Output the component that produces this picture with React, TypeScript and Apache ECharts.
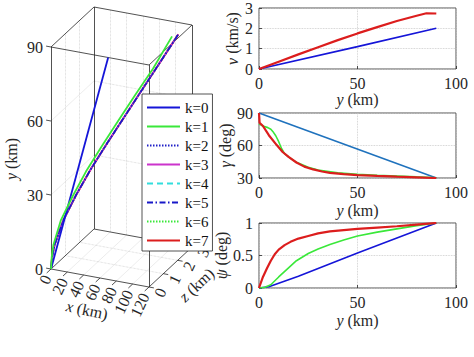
import React, { useEffect, useRef } from "react";
import * as echarts from "echarts";

// ---------- Right panels (horizontal axis: y in km) ----------
const V_K0_Y = [0, 50, 90];
const V_K0 = [0, 1.1, 2.0];
const V_K7_Y = [0, 10, 20, 30, 40, 50, 60, 70, 80, 85, 90];
const V_K7 = [0, 0.36, 0.72, 1.07, 1.42, 1.75, 2.06, 2.36, 2.62, 2.74, 2.73];

const G_K0_Y = [0, 90];
const G_K0 = [90, 30];
const G_K1_Y = [0, 2, 4.5, 6, 7, 8.5, 10, 11.5, 13, 15, 19, 25, 30, 40, 50, 60, 70, 80, 90];
const G_K1 = [80, 78, 76.5, 75, 73, 69, 63.5, 57, 52.5, 49.5, 44.5, 40, 37.3, 34.7, 33.5, 32.6, 31.8, 31, 30.3];
const G_K7_Y = [0, 0.3, 2, 5, 9, 12, 15, 19, 23, 27.5, 32, 36, 43, 50, 60, 70, 80, 90];
const G_K7 = [90, 81, 78, 69.5, 60.4, 54, 49.5, 44.3, 40.5, 37.9, 36, 34.8, 33.5, 32.7, 31.9, 31.2, 30.6, 30];

const P_K0_Y = [0, 5, 20, 50, 90];
const P_K0 = [0, 0.02, 0.18, 0.54, 1];
const P_K1_Y = [0, 3, 6, 10, 15, 19, 25, 30, 36, 43, 50, 60, 70, 80, 90];
const P_K1 = [0, 0.01, 0.05, 0.17, 0.31, 0.42, 0.53, 0.6, 0.67, 0.74, 0.8, 0.86, 0.91, 0.96, 1];
const P_K7_Y = [0, 2, 4, 6, 8, 10, 13, 16, 20, 25, 30, 36, 43, 50, 60, 70, 80, 90];
const P_K7 = [0, 0.17, 0.3, 0.42, 0.52, 0.59, 0.66, 0.71, 0.76, 0.8, 0.84, 0.87, 0.89, 0.91, 0.93, 0.95, 0.975, 1];

// ---------- 3D trajectories (km) ----------
const T0_X = [0, 70];
const T0_Y = [0, 90];
const T0_Z = [0, 0];
const T1_Y = [0, 5, 10, 20, 30, 40, 50, 60, 70, 80, 92];
const T1_X = [0, 0.9, 2.9, 11, 23.5, 37, 52.5, 68.5, 84.5, 101, 117.5];
const T1_Z = [0, 0, 0.005, 0.05, 0.17, 0.34, 0.55, 0.8, 1.07, 1.36, 1.75];
const T7_Y = [0, 5, 10, 20, 30, 40, 50, 60, 70, 80, 91];
const T7_X = [0, 1.3, 4, 13, 25.5, 39.5, 55, 71, 87, 103, 119];
const T7_Z = [0, 0.005, 0.024, 0.13, 0.31, 0.52, 0.76, 1.02, 1.28, 1.56, 2.1];

const X_LIM = [0, 120];
const Y_LIM = [0, 90];
const Z_LIM = [0, 3];
const X_TICKS = [0, 20, 40, 60, 80, 100, 120];
const Y_TICKS = [0, 30, 60, 90];
const Z_TICKS = [0, 1, 2, 3];
const R_X_TICKS_INTERVAL = 50;

const LEGEND_NAMES = ["k=0", "k=1", "k=2", "k=3", "k=4", "k=5", "k=6", "k=7"];

// ---------- styling / projection ----------
const FONT = "Liberation Serif";
const INK = "#262626";
const BLUE = "#1515d8";
const GREEN = "#3ae83a";
const RED = "#dc1d1d";
const MAGENTA = "#cc33cc";
const CYAN = "#33dddd";
const STEEL = "#1f72bd";

const PX = 222 / 90; // px per vertical km
const XDIR = [98 / 120, 18 / 120]; // screen px per km of x
const ZDIR = [43 / 3, -40 / 3]; // screen px per km of z
const ORIGIN = [51, 269];
const U_MIN = -20, U_MAX = 72, W_MIN = -24, W_MAX = 108;

function proj(x: number, y: number, z: number): number[] {
  return [(XDIR[0] * x + ZDIR[0] * z) / PX, y - (XDIR[1] * x + ZDIR[1] * z) / PX];
}

const zip = (xs: number[], ys: number[]) => xs.map((x, i) => [x, ys[i]]);
const traj = (xs: number[], ys: number[], zs: number[]) => xs.map((x, i) => proj(x, ys[i], zs[i]));

function buildOption() {
  const [x0, x1] = X_LIM, [y0, y1] = Y_LIM, [z0, z1] = Z_LIM;
  const edges: number[][][] = [
    [[x0, y0, z0], [x1, y0, z0]], [[x0, y1, z0], [x1, y1, z0]], [[x0, y0, z1], [x1, y0, z1]], [[x0, y1, z1], [x1, y1, z1]],
    [[x0, y0, z0], [x0, y1, z0]], [[x1, y0, z0], [x1, y1, z0]], [[x0, y0, z1], [x0, y1, z1]], [[x1, y0, z1], [x1, y1, z1]],
    [[x0, y0, z0], [x0, y0, z1]], [[x1, y0, z0], [x1, y0, z1]], [[x0, y1, z0], [x0, y1, z1]], [[x1, y1, z0], [x1, y1, z1]],
  ];
  const grids: number[][][] = [];
  const inner = (a: number[]) => a.slice(1, -1);
  inner(X_TICKS).forEach((t) => {
    grids.push([[t, y0, z1], [t, y1, z1]]);
    grids.push([[t, y0, z0], [t, y0, z1]]);
  });
  inner(Y_TICKS).forEach((t) => {
    grids.push([[x0, t, z1], [x1, t, z1]]);
    grids.push([[x0, t, z0], [x0, t, z1]]);
  });
  inner(Z_TICKS).forEach((t) => {
    grids.push([[x0, y0, t], [x0, y1, t]]);
    grids.push([[x0, y0, t], [x1, y0, t]]);
  });
  const ticks: number[][][] = [];
  Y_TICKS.forEach((t) => ticks.push([[x0, t, z0], [x0 - 6, t, z0]]));
  X_TICKS.forEach((t) => ticks.push([[t, y0, z0], [t, y0, z0 - 0.3]]));
  Z_TICKS.forEach((t) => ticks.push([[x1, y0, t], [x1 + 6, y0, t]]));
  const toLines = (segs: number[][][]) =>
    segs.map((s) => ({ coords: [proj(s[0][0], s[0][1], s[0][2]), proj(s[1][0], s[1][1], s[1][2])] }));

  const t0 = traj(T0_X, T0_Y, T0_Z);
  const t1 = traj(T1_X, T1_Y, T1_Z);
  const t7 = traj(T7_X, T7_Y, T7_Z);

  const line3d = (name: string, data: number[][], color: string, width: number, type: any, z: number) => ({
    type: "line", name, xAxisIndex: 3, yAxisIndex: 3, data, symbol: "none", z,
    lineStyle: { color, width, type }, itemStyle: { color },
  });

  const rLine = (xi: number, data: number[][], color: string, width: number) => ({
    type: "line", xAxisIndex: xi, yAxisIndex: xi, data, symbol: "none", silent: true,
    lineStyle: { color, width }, itemStyle: { color },
  });

  const axisLabel = { fontFamily: FONT, fontSize: 16, color: INK, margin: 6 };
  const nameStyle = {
    fontFamily: FONT, fontSize: 16, color: INK,
    rich: { i: { fontFamily: FONT, fontSize: 16, fontStyle: "italic", color: INK } },
  };
  const split = { show: true, lineStyle: { type: "dotted", color: "#c4c4c4", width: 0.8 } };
  const tick = { show: true, inside: true, length: 3, lineStyle: { color: INK, width: 0.8 } };
  const rGrid = (top: number) => ({
    left: 259, right: 18, top, height: 65, show: true, borderColor: INK, borderWidth: 0.8,
  });
  const xR = (gi: number, gap: number) => ({
    type: "value", gridIndex: gi, min: 0, max: 100, interval: R_X_TICKS_INTERVAL,
    axisLine: { show: false }, axisTick: tick, splitLine: split, axisLabel,
    name: "{i|y} (km)", nameLocation: "middle", nameGap: gap, nameTextStyle: nameStyle,
  });
  const yR = (gi: number, min: number, max: number, interval: number, name: string) => ({
    type: "value", gridIndex: gi, min, max, interval,
    axisLine: { show: false }, axisTick: tick, splitLine: split, axisLabel,
    name, nameLocation: "middle", nameGap: 19, nameRotate: 90, nameTextStyle: nameStyle,
  });

  return {
    animation: false,
    backgroundColor: "#ffffff",
    textStyle: { fontFamily: FONT },
    grid: [
      rGrid(4),
      rGrid(113),
      rGrid(223),
      {
        left: ORIGIN[0] + U_MIN * PX, top: ORIGIN[1] - W_MAX * PX,
        width: (U_MAX - U_MIN) * PX, height: (W_MAX - W_MIN) * PX,
      },
    ],
    xAxis: [
      xR(0, 22), xR(1, 24), xR(2, 24),
      { type: "value", gridIndex: 3, min: U_MIN, max: U_MAX, show: false },
    ],
    yAxis: [
      yR(0, 0, 3, 1, "{i|v} (km/s)"),
      yR(1, 30, 90, 30, "{i|γ} (deg)"),
      yR(2, 0, 1, 0.5, "{i|ψ} (deg)"),
      { type: "value", gridIndex: 3, min: W_MIN, max: W_MAX, show: false },
    ],
    legend: {
      data: LEGEND_NAMES,
      orient: "vertical",
      left: 142, top: 94,
      padding: [6, 4, 3, 4],
      itemWidth: 33, itemHeight: 14, itemGap: 4,
      itemStyle: { opacity: 0 },
      backgroundColor: "#ffffff",
      borderColor: INK, borderWidth: 0.8,
      textStyle: { fontFamily: FONT, fontSize: 15, color: "#111", lineHeight: 14 },
      selectedMode: false,
      z: 20,
    },
    series: [
      { type: "lines", coordinateSystem: "cartesian2d", xAxisIndex: 3, yAxisIndex: 3, silent: true, z: 1,
        data: toLines(grids), lineStyle: { color: "#c8c8c8", width: 0.7, type: "dotted", opacity: 1 } },
      { type: "lines", coordinateSystem: "cartesian2d", xAxisIndex: 3, yAxisIndex: 3, silent: true, z: 1,
        data: toLines(edges), lineStyle: { color: INK, width: 0.8, opacity: 1 } },
      { type: "lines", coordinateSystem: "cartesian2d", xAxisIndex: 3, yAxisIndex: 3, silent: true, z: 1,
        data: toLines(ticks), lineStyle: { color: INK, width: 0.8, opacity: 1 } },
      line3d("k=0", t0, BLUE, 1.8, "solid", 9),
      line3d("k=1", t1, GREEN, 1.8, "solid", 9),
      line3d("k=2", t7, "#2020c8", 1.5, [1.5, 1.5], 7),
      line3d("k=3", t7, MAGENTA, 1.8, "solid", 5),
      line3d("k=4", t7, CYAN, 1.5, [6, 4], 4),
      line3d("k=5", t7, "#1818c8", 1.5, [6, 2.5, 1.5, 2.5], 8),
      line3d("k=6", t7, GREEN, 1.5, [1.5, 1.5], 4),
      line3d("k=7", t7, RED, 2, "solid", 3),
      rLine(0, zip(V_K0_Y, V_K0), BLUE, 1.6),
      rLine(0, zip(V_K7_Y, V_K7), RED, 2.2),
      rLine(1, zip(G_K0_Y, G_K0), STEEL, 1.6),
      rLine(1, zip(G_K1_Y, G_K1), GREEN, 1.6),
      rLine(1, zip(G_K7_Y, G_K7), RED, 2.2),
      rLine(2, zip(P_K0_Y, P_K0), BLUE, 1.6),
      rLine(2, zip(P_K1_Y, P_K1), GREEN, 1.6),
      rLine(2, zip(P_K7_Y, P_K7), RED, 2.2),
    ],
  };
}

export default function App() {
  const ref = useRef<HTMLDivElement>(null);
  useEffect(() => {
    const chart = echarts.init(ref.current as HTMLDivElement, undefined, { renderer: "svg" });
    chart.setOption(buildOption() as any);
    const toPx = (p: number[]) => chart.convertToPixel({ gridIndex: 3 } as any, p) as unknown as number[];
    const txt = (text: string, x: number, y: number, align: string, rot: number, rich = false) => {
      const style: any = {
        text, fill: INK, fontFamily: FONT, fontSize: 16,
        align, textAlign: align, verticalAlign: "middle", textVerticalAlign: "middle",
      };
      if (rich) style.rich = { i: { fontFamily: FONT, fontSize: 16, fontStyle: "italic", fill: INK } };
      return { type: "text", x, y, rotation: (rot * Math.PI) / 180, silent: true, z: 10, style };
    };
    const g: any[] = [];
    Y_TICKS.forEach((t) => {
      const [px, py] = toPx(proj(0, t, 0));
      g.push(txt(String(t), px - 8, py, "right", 0));
    });
    X_TICKS.forEach((t) => {
      const [px, py] = toPx(proj(t, 0, 0));
      g.push(txt(String(t), px - 4, py + 7, "right", 65));
    });
    Z_TICKS.forEach((t) => {
      const [px, py] = toPx(proj(X_LIM[1], 0, t));
      g.push(txt(String(t), px + 13, py + 2, "right", 65));
    });
    const xn = toPx(proj(60, 0, 0));
    g.push(txt("{i|x} (km)", xn[0] - 13, xn[1] + 32, "center", -12, true));
    const zn = toPx(proj(X_LIM[1], 0, 1.5));
    g.push(txt("{i|z} (km)", zn[0] + 26, zn[1] + 18, "center", 43, true));
    const yn = toPx(proj(0, 45, 0));
    g.push(txt("{i|y} (km)", 11, yn[1] + 1, "center", 90, true));
    chart.setOption({ graphic: g } as any);
    return () => chart.dispose();
  }, []);
  return <div ref={ref} style={{ position: "absolute", left: 0, top: 0, width: 474, height: 357 }} />;
}
